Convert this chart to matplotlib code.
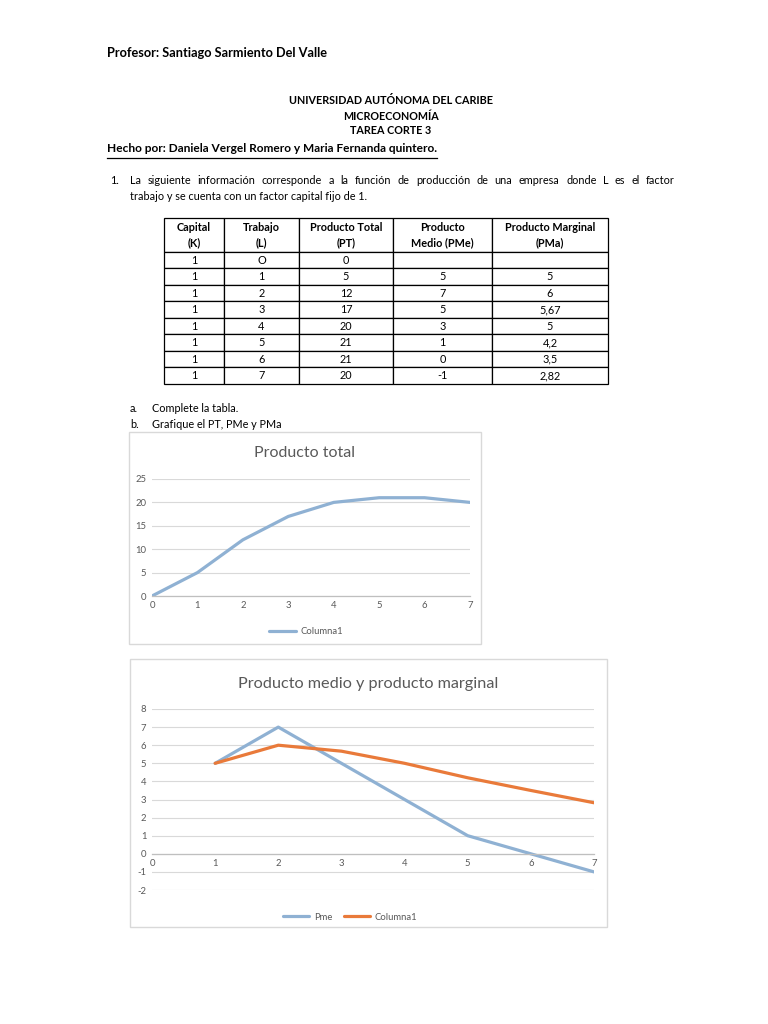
import numpy as np
import matplotlib
matplotlib.use('Agg')
import matplotlib.pyplot as plt
from matplotlib.patches import Rectangle

# datos de la tabla
capital = ['1', '1', '1', '1', '1', '1', '1', '1']
trabajo = ['O', '1', '2', '3', '4', '5', '6', '7']
trabajo_num = [0, 1, 2, 3, 4, 5, 6, 7]
producto_total = [0, 5, 12, 17, 20, 21, 21, 20]
producto_medio = [np.nan, 5, 7, 5, 3, 1, 0, -1]
producto_marginal = [np.nan, 5, 6, 5.67, 5, 4.2, 3.5, 2.82]
encabezados = ['Capital\n(K)', 'Trabajo\n(L)', 'Producto Total\n(PT)',
               'Producto\nMedio (PMe)', 'Producto Marginal\n(PMa)']

AZUL = '#8FB1D3'
NARANJA = '#E97A3A'
GRIS = '#595959'
plt.rcParams['font.family'] = ['Lato', 'DejaVu Sans']
plt.rcParams['axes.unicode_minus'] = False

W, H = 768, 1024
fig = plt.figure(figsize=(W / 100, H / 100), dpi=100)
page = fig.add_axes([0, 0, 1, 1])
page.set_xlim(0, W)
page.set_ylim(H, 0)
page.axis('off')
rend = fig.canvas.get_renderer()


def caja(l, t, w, h):
    return [l / W, 1 - (t + h) / H, w / W, h / H]


def texto(x, y, s, ancho=None, size=9, ha='left', **kw):
    t = page.text(x, y, s, ha=ha, va='center', fontsize=size, **kw)
    if ancho:
        w = t.get_window_extent(rend).width
        t.set_fontsize(size * ancho / w)
    return t


def justificar(palabras, x0, x1, y, size, **kw):
    ts = [page.text(0, y, p, va='center', fontsize=size, **kw) for p in palabras]
    anchos = [t.get_window_extent(rend).width for t in ts]
    hueco = (x1 - x0 - sum(anchos)) / (len(ts) - 1)
    x = x0
    for t, w in zip(ts, anchos):
        t.set_x(x)
        x += w + hueco


# encabezado
texto(107, 53, 'Profesor: Santiago Sarmiento Del Valle', ancho=221, weight='bold')
tu = texto(391, 100, 'UNIVERSIDAD AUTÓNOMA DEL CARIBE', ancho=204, ha='center', weight='bold')
texto(391, 116, 'MICROECONOMÍA', size=tu.get_fontsize(), ha='center', weight='bold')
texto(391, 131, 'TAREA CORTE 3', size=tu.get_fontsize(), ha='center', weight='bold')
texto(107, 149, 'Hecho por: Daniela Vergel Romero y Maria Fernanda quintero.', ancho=330, weight='bold')
page.plot([107, 437], [157.5, 157.5], color='black', lw=0.9)

t2 = texto(130, 197, 'trabajo y se cuenta con un factor capital fijo de 1.', ancho=236)
fs = t2.get_fontsize()
texto(110, 181, '1.', size=fs)
justificar('La siguiente información corresponde a la función de producción de una empresa donde L es el factor'.split(),
           130, 675, 181, fs)

# tabla
filas = []
for i in range(len(trabajo)):
    pme = '' if np.isnan(producto_medio[i]) else f'{producto_medio[i]:g}'
    pma = '' if np.isnan(producto_marginal[i]) else f'{producto_marginal[i]:g}'.replace('.', ',')
    filas.append([capital[i], trabajo[i], str(producto_total[i]), pme, pma])

tab = page.table(cellText=filas, colLabels=encabezados, cellLoc='center',
                 colWidths=[60, 75, 94, 99, 116],
                 bbox=[164 / W, 1 - 384 / H, 444 / W, 166 / H])
tab.auto_set_font_size(False)
tab.set_fontsize(7.8)
for (r, c), cell in tab.get_celld().items():
    cell.set_linewidth(0.9)
    cell.set_edgecolor('black')
    if r == 0:
        cell.set_height(cell.get_height() * 2.06)
        cell.get_text().set_fontweight('bold')
        cell.get_text().set_linespacing(1.45)

# incisos
texto(130, 408, 'a.', size=fs)
texto(152, 408, 'Complete la tabla.', size=fs)
texto(130, 424, 'b.', size=fs)
texto(152, 424, 'Grafique el PT, PMe y PMa', size=fs)

# marcos de los graficos
page.add_patch(Rectangle((129, 432), 352, 212, fill=False, edgecolor='#D9D9D9', lw=1))
page.add_patch(Rectangle((130, 659), 477, 268, fill=False, edgecolor='#D9D9D9', lw=1))


def estilo(ax, yticks):
    ax.set_facecolor('none')
    ax.set_xlim(0, 7)
    ax.set_xticks(trabajo_num)
    ax.set_yticks(yticks)
    ax.yaxis.grid(True, color='#D9D9D9', lw=0.8)
    ax.set_axisbelow(True)
    for s in ['top', 'right', 'left']:
        ax.spines[s].set_visible(False)
    ax.spines['bottom'].set_color('#BFBFBF')
    ax.spines['bottom'].set_linewidth(0.9)
    ax.tick_params(length=0, labelsize=6.8, labelcolor=GRIS)
    ax.tick_params(axis='x', pad=3.5)
    ax.tick_params(axis='y', pad=4)


# grafico 1
ax1 = fig.add_axes(caja(152, 479, 318, 117))
ax1.plot(trabajo_num, producto_total, color=AZUL, lw=2.3, label='Columna1',
         solid_capstyle='round', solid_joinstyle='round')
ax1.set_ylim(0, 25)
estilo(ax1, range(0, 26, 5))
texto(305, 453, 'Producto total', ancho=101, ha='center', color=GRIS)
ax1.legend(loc='center', bbox_to_anchor=(306 / W, 1 - 632 / H), bbox_transform=fig.transFigure,
           frameon=False, fontsize=6.8, labelcolor=GRIS, handlelength=2.8, handletextpad=0.5)

# grafico 2
ax2 = fig.add_axes(caja(152, 709, 442, 181))
ax2.plot(trabajo_num, producto_medio, color=AZUL, lw=2.3, label='Pme',
         solid_capstyle='round', solid_joinstyle='round')
ax2.plot(trabajo_num, producto_marginal, color=NARANJA, lw=2.3, label='Columna1',
         solid_capstyle='round', solid_joinstyle='round')
ax2.set_ylim(-2, 8)
estilo(ax2, range(-2, 9))
ax2.spines['bottom'].set_position(('data', 0))
texto(368, 684, 'Producto medio y producto marginal', ancho=263, ha='center', color=GRIS)
ax2.legend(loc='center', bbox_to_anchor=(350 / W, 1 - 917 / H), bbox_transform=fig.transFigure,
           frameon=False, fontsize=6.8, labelcolor=GRIS, ncol=2, handlelength=2.8,
           handletextpad=0.5, columnspacing=1.2)

fig.savefig('out.png', dpi=100)
